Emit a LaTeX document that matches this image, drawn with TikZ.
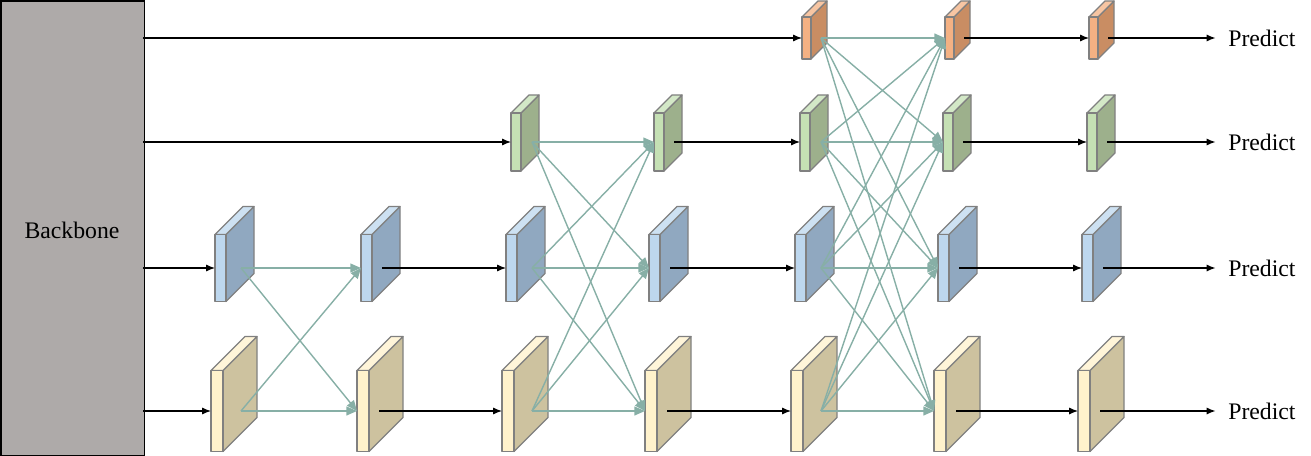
\documentclass[tikz,border=0pt]{standalone}
\usepackage{fontspec}
\setmainfont{Liberation Serif}
\usetikzlibrary{arrows.meta}
\definecolor{oF}{HTML}{F4B183}\definecolor{oS}{HTML}{C98D63}
\definecolor{gF}{HTML}{C5E0B4}\definecolor{gS}{HTML}{9DB08C}
\definecolor{bF}{HTML}{BDD7EE}\definecolor{bS}{HTML}{90A8C0}
\definecolor{yF}{HTML}{FFF2CC}\definecolor{yS}{HTML}{CDC29F}
\definecolor{teal}{HTML}{87AFA6}
\definecolor{bb}{HTML}{AEAAA9}
\tikzset{blk/.style={draw=black!50,line width=0.7pt,line join=round},
 tl/.style={teal,line width=0.8pt,-{Triangle[length=6pt,width=5pt]}},
 bk/.style={black,line width=0.7pt,-{Latex[length=5pt,width=4pt]}},
 lbl/.style={font=\fontsize{13.5}{16}\selectfont,anchor=west,inner sep=0pt}}
\newcommand\blk[8]{%
 \pgfmathsetmacro\T{#3-#5/2}\pgfmathsetmacro\B{#3+#5/2}\pgfmathsetmacro\R{#2+#4}%
 \filldraw[blk,fill=#8] (\R,\T)--(\R+#6,\T-#6)--(\R+#6,\B-#6)--(\R,\B)--cycle;
 \filldraw[blk,fill=#7!75!white] (#2,\T)--(#2+#6,\T-#6)--(\R+#6,\T-#6)--(\R,\T)--cycle;
 \filldraw[blk,fill=#7] (#2,\T) rectangle (\R,\B);
 \coordinate (#1w) at (#2,#3); \coordinate (#1e) at (\R+10,#3);}
\begin{document}
\begin{tikzpicture}[x=0.02cm,y=-0.02cm]
\useasboundingbox (0,0) rectangle (1311,456);
\node[draw=black,line width=0.7pt,fill=bb,minimum width=143*0.02cm,minimum height=454*0.02cm,anchor=north west,inner sep=0pt] (bbn) at (0.5,0.5) {};
\node[font=\fontsize{13.5}{16}\selectfont] (bbt) at (72,230) {Backbone};
% blocks: col, base
\foreach \c/\x in {1/211,2/357,3/502,4/645,5/791,6/934,7/1078}{
  \ifnum\c>4 \blk{b\c1}{\x+11}{38}{9}{42}{16}{oF}{oS}\fi
  \ifnum\c>2 \blk{b\c2}{\x+9}{142}{10}{58}{18}{gF}{gS}\fi
  \blk{b\c3}{\x+4}{268}{11}{67}{28}{bF}{bS}
  \blk{b\c4}{\x}{411}{12}{81}{34}{yF}{yS}
  \coordinate (src\c) at (\x+30,0);
}
% teal connections
\foreach \r/\y in {3/268,4/411}{\foreach \s in {3,4}{\draw[tl] (src1|-b1\r w) -- (b2\s w);}}
\foreach \r in {2,3,4}{\foreach \s in {2,3,4}{\draw[tl] (src3|-b3\r w) -- (b4\s w);}}
\foreach \r in {1,2,3,4}{\foreach \s in {1,2,3,4}{\draw[tl] (src5|-b5\r w) -- (b6\s w);}}
% black connections
\foreach \r in {3,4}{\draw[bk] (b2\r e) -- (b3\r w);}
\foreach \r in {2,3,4}{\draw[bk] (b4\r e) -- (b5\r w);}
\foreach \r in {1,2,3,4}{\draw[bk] (b6\r e) -- (b7\r w);}
% backbone arrows
\coordinate (bb1) at (143,38);\coordinate (bb2) at (143,142);
\coordinate (bb3) at (143,268);\coordinate (bb4) at (143,411);
\draw[bk] (bb1) -- (b51w);\draw[bk] (bb2) -- (b32w);
\draw[bk] (bb3) -- (b13w);\draw[bk] (bb4) -- (b14w);
% predict
\foreach \r/\y in {1/38,2/142,3/268,4/411}{
  \node[lbl] (p\r) at (1228,\y) {Predict};
  \draw[bk] (b7\r e) -- ([xshift=-0.25cm]p\r.west);}
\end{tikzpicture}
\end{document}
